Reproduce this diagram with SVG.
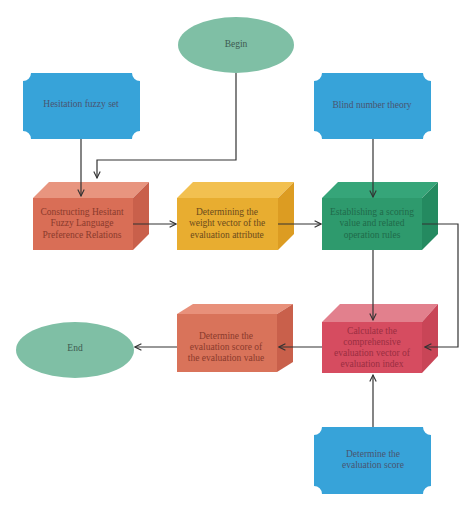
<svg xmlns="http://www.w3.org/2000/svg" width="474" height="511" viewBox="0 0 474 511">
<defs>
<marker id="arr" viewBox="0 0 10 10" refX="9" refY="5" markerWidth="8" markerHeight="8" markerUnits="userSpaceOnUse" orient="auto">
<path d="M1,1 L9,5 L1,9" fill="none" stroke="#333" stroke-width="1.4"/>
</marker>
<style>
text{font-family:"Liberation Serif","DejaVu Serif",serif;font-size:9.5px;text-anchor:middle;dominant-baseline:middle}
.ell{fill:#7fbfa5}
.blue{fill:#37a3d9}
.bt{fill:#4a5470}
.con{fill:none;stroke:#333;stroke-width:1.2}
</style>
</defs>
<rect width="474" height="511" fill="#fff"/>
<g id="begin">
<ellipse class="ell" cx="236" cy="45" rx="58" ry="28"/>
<text x="236" y="45" fill="#3d5a50">Begin</text>
</g>
<g id="hesitation">
<path class="blue" d="M31,73 H132 A8,8 0 0 0 140,81 V131 A8,8 0 0 0 132,139 H31 A8,8 0 0 0 23,131 V81 A8,8 0 0 0 31,73 Z"/>
<text class="bt" x="81" y="105">Hesitation fuzzy set</text>
</g>
<g id="blind">
<path class="blue" d="M322,73 H423 A8,8 0 0 0 431,81 V131 A8,8 0 0 0 423,139 H322 A8,8 0 0 0 314,131 V81 A8,8 0 0 0 322,73 Z"/>
<text class="bt" x="372" y="106">Blind number theory</text>
</g>
<g id="constructing">
<polygon points="33,198 49,182 149,182 133,198" fill="#e8957f"/>
<polygon points="133,198 149,182 149,234 133,250" fill="#c9604b"/>
<rect x="33" y="198" width="100" height="52" fill="#d96e56"/>
<text fill="#8a3a2c"><tspan x="82" y="213">Constructing Hesitant</tspan><tspan x="82" y="224">Fuzzy Language</tspan><tspan x="82" y="236">Preference Relations</tspan></text>
</g>
<g id="weight">
<polygon points="177,198 193,182 294,182 278,198" fill="#f2c050"/>
<polygon points="278,198 294,182 294,234 278,250" fill="#dc9c22"/>
<rect x="177" y="198" width="101" height="52" fill="#e8ad30"/>
<text fill="#6b4a1c"><tspan x="227" y="213">Determining the</tspan><tspan x="227" y="224">weight vector of the</tspan><tspan x="227" y="236">evaluation attribute</tspan></text>
</g>
<g id="establishing">
<polygon points="322,198 338,182 438,182 422,198" fill="#36a579"/>
<polygon points="422,198 438,182 438,234 422,250" fill="#248a60"/>
<rect x="322" y="198" width="100" height="52" fill="#2e9a6d"/>
<text fill="#1f6a4a"><tspan x="372" y="213">Establishing a scoring</tspan><tspan x="372" y="224">value and related</tspan><tspan x="372" y="236">operation rules</tspan></text>
</g>
<g id="calculate">
<polygon points="322,322 340,304 438,304 422,322" fill="#e2808d"/>
<polygon points="422,322 438,304 438,356 422,373" fill="#c94557"/>
<rect x="322" y="322" width="100" height="51" fill="#d64c60"/>
<text fill="#9a2e40"><tspan x="372" y="332">Calculate the</tspan><tspan x="372" y="343">comprehensive</tspan><tspan x="372" y="354">evaluation vector of</tspan><tspan x="372" y="365">evaluation index</tspan></text>
</g>
<g id="determine-value">
<polygon points="177,314 193,304 293,304 277,314" fill="#e8907a"/>
<polygon points="277,314 293,304 293,362 277,372" fill="#c9604b"/>
<rect x="177" y="314" width="100" height="58" fill="#d9735a"/>
<text fill="#8a3a2c"><tspan x="226" y="337">Determine the</tspan><tspan x="226" y="348">evaluation score of</tspan><tspan x="226" y="359">the evaluation value</tspan></text>
</g>
<g id="end">
<ellipse class="ell" cx="75" cy="350" rx="59" ry="28"/>
<text x="75" y="349" fill="#3d5a50">End</text>
</g>
<g id="determine-score">
<path class="blue" d="M322,427 H423 A8,8 0 0 0 431,435 V486 A8,8 0 0 0 423,494 H322 A8,8 0 0 0 314,486 V435 A8,8 0 0 0 322,427 Z"/>
<text class="bt"><tspan x="373" y="455">Determine the</tspan><tspan x="373" y="466">evaluation score</tspan></text>
</g>
<g id="connectors">
<path class="con" d="M236,73 V160 H97 V178" marker-end="url(#arr)"/>
<path class="con" d="M81,139 V196" marker-end="url(#arr)"/>
<path class="con" d="M133,224 H176" marker-end="url(#arr)"/>
<path class="con" d="M278,224 H321" marker-end="url(#arr)"/>
<path class="con" d="M373,139 V197" marker-end="url(#arr)"/>
<path class="con" d="M373,250 V320" marker-end="url(#arr)"/>
<path class="con" d="M422,224 H458 V347 H425" marker-end="url(#arr)"/>
<path class="con" d="M322,347 H279" marker-end="url(#arr)"/>
<path class="con" d="M177,347 H135" marker-end="url(#arr)"/>
<path class="con" d="M373,427 V375" marker-end="url(#arr)"/>
</g>
</svg>
